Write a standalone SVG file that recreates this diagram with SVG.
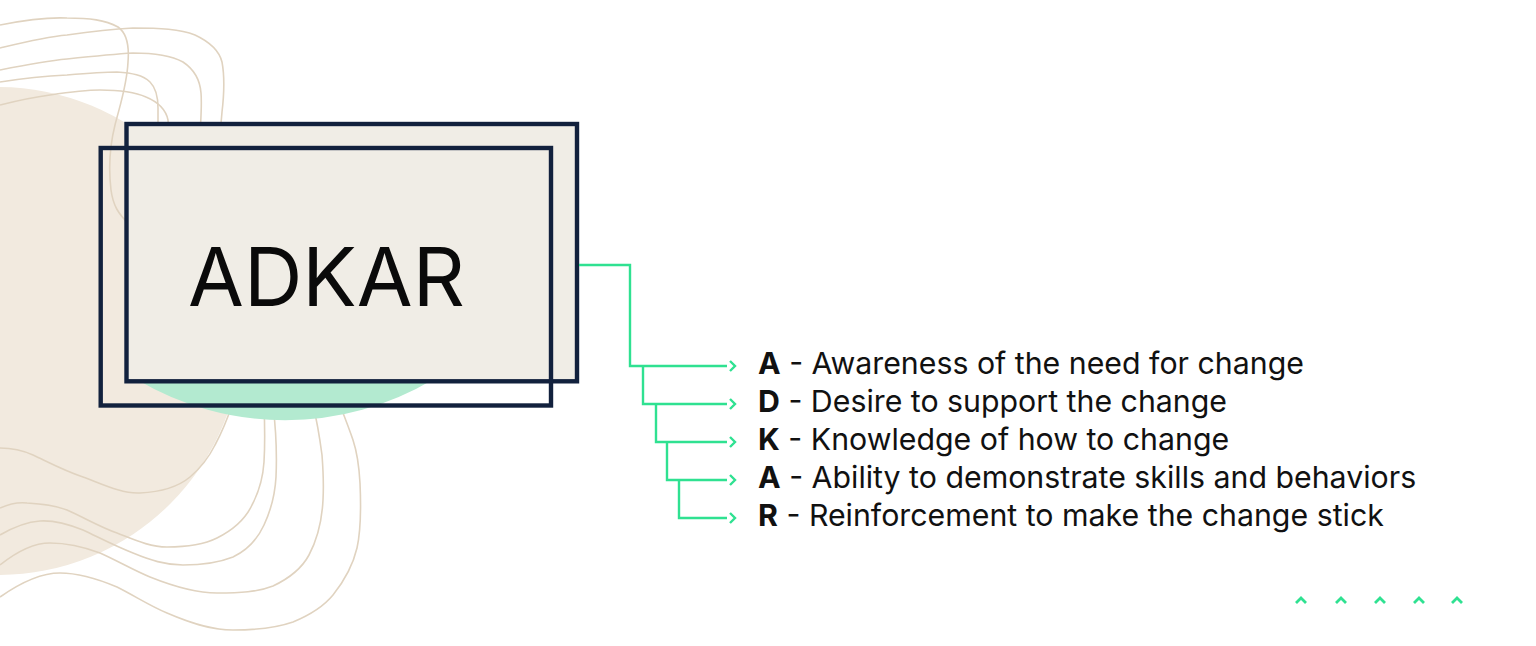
<svg xmlns="http://www.w3.org/2000/svg" width="1536" height="646" viewBox="0 0 1536 646">
  <defs>
    <style>
      .contour { fill: none; stroke: #e0d3c0; stroke-width: 1.6; }
      .frame { stroke: #12213d; stroke-width: 4.4; }
      .conn { fill: none; stroke: #2fe191; stroke-width: 2.4; }
      .item { font-family: Inter, "Noto Sans", "Liberation Sans", sans-serif; font-size: 30.3px; fill: #111111; }
      .item .key { font-weight: 700; }
      .title { font-family: Inter, "Noto Sans", "Liberation Sans", sans-serif; font-size: 81px; fill: #0a0a0a; }
      .deco { fill: none; stroke: #2fe191; stroke-width: 2.8; stroke-linecap: butt; }
    </style>
    <marker id="chev" markerUnits="userSpaceOnUse" markerWidth="12" markerHeight="14" refX="0" refY="6" orient="auto" viewBox="0 0 12 12">
      <path d="M3,1 L8,6 L3,11" fill="none" stroke="#2fe191" stroke-width="2.4"/>
    </marker>
  </defs>

  <rect width="1536" height="646" fill="#ffffff"/>

  <g id="background">
    <circle cx="-2" cy="331" r="244" fill="#f2eadf"/>
    <!-- top contour lines -->
    <path class="contour" d="M0,25 C25,20 45,17 67,18 C90,18 105,20 118,27 C128,34 129,50 128,62 C127,85 120,105 115,125 C110,145 108,165 111,190 C113,205 118,214 130,225"/>
    <path class="contour" d="M0,48 C25,42 45,37 67,35 C95,31 115,29 133,28 C160,28 180,29 195,35 C210,42 219,50 222,62 C225,78 224,95 222,112 L220,135"/>
    <path class="contour" d="M0,70 C25,65 45,61 67,59 C95,56 115,54 133,53 C155,53 170,55 183,62 C195,70 200,80 201,93 C202,105 201,115 200,135"/>
    <path class="contour" d="M0,82 C25,78 45,76 67,75 C90,73 105,72 117,72 C132,73 143,75 150,82 C156,88 158,98 158,108 L158,135"/>
    <path class="contour" d="M0,105 C20,100 35,97 50,95 C70,92 85,90 100,90 C120,90 135,92 146,97 C158,102 166,110 168,120 L169,135"/>
    <!-- bottom contour lines -->
    <path class="contour" d="M0,448 C12,448 22,450 33,455 C50,463 65,471 83,477 C102,484 122,494 140,493 C160,492 178,487 190,477 C203,466 210,455 215,445 C222,432 227,420 232,405"/>
    <path class="contour" d="M0,508 C9,504 18,502 27,503 C42,504 54,505 67,510 C85,518 100,527 117,533 C135,540 150,547 167,547 C185,547 203,545 217,538 C233,530 245,520 252,505 C260,490 263,477 264,462 C265,445 265,430 264,405"/>
    <path class="contour" d="M0,535 C12,528 25,522 40,521 C55,520 68,524 83,530 C100,538 115,546 133,553 C150,560 165,565 183,565 C200,565 218,563 233,557 C248,550 258,538 264,525 C271,510 275,495 276,477 C277,455 276,430 273,405"/>
    <path class="contour" d="M0,565 C15,553 32,543 50,543 C68,543 84,547 100,553 C118,561 133,570 150,577 C170,585 195,593 217,593 C240,593 258,592 273,586 C290,578 302,568 309,555 C318,538 322,520 323,500 C324,482 323,468 322,455 C320,440 318,425 313,405"/>
    <path class="contour" d="M0,597 C20,583 40,573 60,573 C80,573 98,579 117,587 C135,596 150,606 167,613 C188,622 210,630 233,630 C255,630 276,628 293,622 C310,615 324,606 333,595 C345,580 353,565 357,548 C361,530 361,505 360,483 C359,465 357,452 353,440 C349,428 345,418 338,400"/>
    <!-- green semicircle -->
    <path d="M136,379 L434,379 A290,290 0 0 1 136,379 Z" fill="#b3ead0"/>
  </g>

  <g id="node-adkar">
    <rect class="frame" x="126.5" y="124" width="450.5" height="257.3" fill="#f0ede6"/>
    <rect class="frame" x="100.7" y="148" width="450.3" height="257.5" fill="none"/>
    <text class="title" x="188" y="306">ADKAR</text>
  </g>

  <g id="connectors">
    <path class="conn" d="M579,265 L630,265 L630,366 L727,366" marker-end="url(#chev)"/>
    <path class="conn" d="M643,366 L643,404 L727,404" marker-end="url(#chev)"/>
    <path class="conn" d="M656,404 L656,442 L727,442" marker-end="url(#chev)"/>
    <path class="conn" d="M667,442 L667,480 L727,480" marker-end="url(#chev)"/>
    <path class="conn" d="M679,480 L679,518 L727,518" marker-end="url(#chev)"/>
  </g>

  <g id="item-awareness">
    <text class="item" x="758" y="374"><tspan class="key">A</tspan> - Awareness of the need for change</text>
  </g>
  <g id="item-desire">
    <text class="item" x="758" y="412"><tspan class="key">D</tspan> - Desire to support the change</text>
  </g>
  <g id="item-knowledge">
    <text class="item" x="758" y="450"><tspan class="key">K</tspan> - Knowledge of how to change</text>
  </g>
  <g id="item-ability">
    <text class="item" x="758" y="488"><tspan class="key">A</tspan> - Ability to demonstrate skills and behaviors</text>
  </g>
  <g id="item-reinforcement">
    <text class="item" x="758" y="526"><tspan class="key">R</tspan> - Reinforcement to make the change stick</text>
  </g>

  <g id="decoration">
    <polyline class="deco" points="1296,603 1301,598 1306,603"/>
    <polyline class="deco" points="1336,603 1341,598 1346,603"/>
    <polyline class="deco" points="1375,603 1380,598 1385,603"/>
    <polyline class="deco" points="1414,603 1419,598 1424,603"/>
    <polyline class="deco" points="1452,603 1457,598 1462,603"/>
  </g>
</svg>
